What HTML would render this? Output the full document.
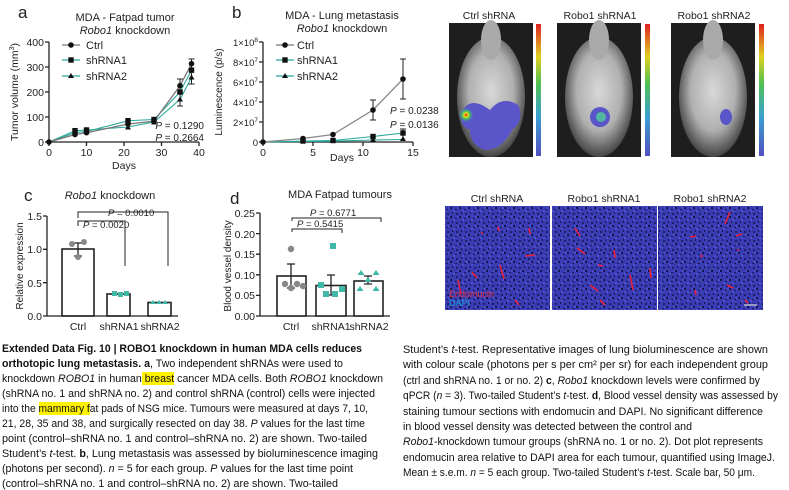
<!DOCTYPE html>
<html><head><meta charset="utf-8"><style>
body{margin:0;background:#fff;}
svg{display:block;font-family:"Liberation Sans",Arial,sans-serif;}
.cap{font-family:"Liberation Sans",sans-serif;font-size:11px;fill:#111;}
</style></head><body>
<svg width="789" height="490" viewBox="0 0 789 490" xmlns="http://www.w3.org/2000/svg">
<defs>
<pattern id="cells" width="9" height="9" patternUnits="userSpaceOnUse">
<rect width="9" height="9" fill="#3a3cb4"/>
<rect x="0" y="0" width="2" height="2" fill="#15154a"/>
<rect x="5" y="2" width="2" height="1" fill="#1a1a55"/>
<rect x="2" y="5" width="1" height="2" fill="#15154a"/>
<rect x="6" y="6" width="2" height="2" fill="#20206a"/>
<rect x="3" y="3" width="2" height="2" fill="#4c4ed0"/>
<rect x="7" y="0" width="2" height="2" fill="#4a4cc8"/>
</pattern>
<radialGradient id="mouse" cx="50%" cy="45%" r="60%">
<stop offset="0" stop-color="#d8d8d8"/><stop offset="0.55" stop-color="#b0b0b0"/><stop offset="1" stop-color="#2a2a2a"/>
</radialGradient>
<linearGradient id="cbar" x1="0" y1="1" x2="0" y2="0">
<stop offset="0" stop-color="#5050c0"/><stop offset="0.3" stop-color="#3aa0d0"/><stop offset="0.55" stop-color="#50c050"/><stop offset="0.75" stop-color="#e0d020"/><stop offset="1" stop-color="#e02020"/>
</linearGradient>
<radialGradient id="hot"><stop offset="0" stop-color="#e00000"/><stop offset="0.25" stop-color="#e8e020"/><stop offset="0.5" stop-color="#40c060"/><stop offset="1" stop-color="#5a5ad0" stop-opacity="0"/></radialGradient>
</defs>
<g font-size="11" fill="#222">
<!-- Panel a -->
<text x="18" y="18" font-size="17">a</text>
<text x="125" y="21" text-anchor="middle">MDA - Fatpad tumor</text>
<text x="125" y="34" text-anchor="middle"><tspan font-style="italic">Robo1</tspan> knockdown</text>
<g stroke="#222" stroke-width="1.3" fill="none">
<path d="M49,42V142H199"/>
<path d="M45,42H49M45,67H49M45,92H49M45,117H49M45,142H49"/>
<path d="M49,142v4M86.5,142v4M124,142v4M161.5,142v4M199,142v4"/>
</g>
<g text-anchor="end" font-size="10.5"><text x="44" y="46">400</text><text x="44" y="71">300</text><text x="44" y="96">200</text><text x="44" y="121">100</text><text x="44" y="146">0</text></g>
<g text-anchor="middle" font-size="10.5"><text x="49" y="156">0</text><text x="86.5" y="156">10</text><text x="124" y="156">20</text><text x="161.5" y="156">30</text><text x="199" y="156">40</text><text x="124" y="169">Days</text></g>
<text transform="translate(18,92) rotate(-90)" text-anchor="middle" font-size="10.5">Tumor volume (mm<tspan font-size="7" dy="-4">3</tspan><tspan dy="4">)</tspan></text>
<polyline fill="none" stroke="#2aa89a" stroke-width="1.1" points="49,142 75,132.5 86.5,131.5 128,120.75 154,119.5 180,92 191.5,70.25"/>
<polyline fill="none" stroke="#2aa89a" stroke-width="1.1" points="49,142 75,130.75 86.5,130 128,127 154,122 180,99.5 191.5,77.5"/>
<polyline fill="none" stroke="#777" stroke-width="1.3" points="49,142 75,134.5 86.5,132.75 128,124 154,121.25 180,85.75 191.5,63.75"/>
<g stroke="#222" stroke-width="1"><path d="M180,79v14M177,79h6M177,93h6M180,92v14M177,106h6M191.5,59v10M188.5,59h6M191.5,73v11M188.5,84h6"/></g>
<g fill="#111">
<circle cx="75" cy="134.5" r="2.8"/><circle cx="86.5" cy="132.7" r="2.8"/><circle cx="128" cy="124" r="2.8"/><circle cx="154" cy="121.2" r="2.8"/><circle cx="180" cy="85.7" r="2.8"/><circle cx="191.5" cy="63.7" r="2.8"/><circle cx="49" cy="142" r="2.8"/>
<rect x="72.3" y="128" width="5.4" height="5.4"/><rect x="83.8" y="127.3" width="5.4" height="5.4"/><rect x="125.3" y="118" width="5.4" height="5.4"/><rect x="151.3" y="116.8" width="5.4" height="5.4"/><rect x="177.3" y="89.3" width="5.4" height="5.4"/><rect x="188.8" y="67.5" width="5.4" height="5.4"/>
<path d="M75,127.5l3,5h-6zM86.5,126.8l3,5h-6zM128,124.5l3,5h-6zM154,119.5l3,5h-6zM180,96.5l3,5h-6zM191.5,74.5l3,5h-6z"/>
</g>
<path d="M62,45H80" stroke="#777" stroke-width="1.3"/><circle cx="71" cy="45" r="2.8" fill="#111"/><text x="86" y="49">Ctrl</text>
<path d="M62,60H80" stroke="#2aa89a" stroke-width="1.3"/><rect x="68.3" y="57.3" width="5.4" height="5.4" fill="#111"/><text x="86" y="64">shRNA1</text>
<path d="M62,76H80" stroke="#2aa89a" stroke-width="1.3"/><path d="M71,73l3,5h-6z" fill="#111"/><text x="86" y="80">shRNA2</text>
<text x="204" y="129" text-anchor="end" font-size="10"><tspan font-style="italic">P</tspan> = 0.1290</text>
<text x="204" y="141" text-anchor="end" font-size="10"><tspan font-style="italic">P</tspan> = 0.2664</text>

<!-- Panel b -->
<text x="232" y="18" font-size="17">b</text>
<text x="342" y="19" text-anchor="middle">MDA - Lung metastasis</text>
<text x="342" y="32" text-anchor="middle"><tspan font-style="italic">Robo1</tspan> knockdown</text>
<g stroke="#222" stroke-width="1.3" fill="none">
<path d="M263,42V142H413"/>
<path d="M259,42H263M259,62H263M259,82H263M259,102H263M259,122H263M259,142H263"/>
<path d="M263,142v4M313,142v4M363,142v4M413,142v4"/>
</g>
<g text-anchor="end" font-size="9.5"><text x="258" y="46">1×10<tspan font-size="6.5" dy="-4">8</tspan></text><text x="258" y="66">8×10<tspan font-size="6.5" dy="-4">7</tspan></text><text x="258" y="86">6×10<tspan font-size="6.5" dy="-4">7</tspan></text><text x="258" y="106">4×10<tspan font-size="6.5" dy="-4">7</tspan></text><text x="258" y="126">2×10<tspan font-size="6.5" dy="-4">7</tspan></text><text x="258" y="146">0</text></g>
<g text-anchor="middle" font-size="10.5"><text x="263" y="156">0</text><text x="313" y="156">5</text><text x="363" y="156">10</text><text x="413" y="156">15</text><text x="342" y="161">Days</text></g>
<text transform="translate(222,92) rotate(-90)" text-anchor="middle" font-size="10">Luminescence (p/s)</text>
<polyline fill="none" stroke="#2aa89a" stroke-width="1.1" points="263,142 303,141.5 333,141.2 373,140 403,139.5"/>
<polyline fill="none" stroke="#2aa89a" stroke-width="1.1" points="263,142 303,141 333,140.5 373,136.5 403,133"/>
<polyline fill="none" stroke="#888" stroke-width="1.3" points="263,142 303,138.5 333,134.5 373,110 403,79"/>
<g stroke="#222" stroke-width="1"><path d="M373,100v20M370,100h6M370,120h6M403,59v40M400,59h6M400,99h6M403,129v8M400,129h6"/></g>
<g fill="#111"><circle cx="263" cy="142" r="2.8"/><circle cx="303" cy="138.5" r="2.8"/><circle cx="333" cy="134.5" r="2.8"/><circle cx="373" cy="110" r="2.8"/><circle cx="403" cy="79" r="2.8"/>
<rect x="300.3" y="138.3" width="5.4" height="5.4"/><rect x="330.3" y="137.8" width="5.4" height="5.4"/><rect x="370.3" y="133.8" width="5.4" height="5.4"/><rect x="400.3" y="130.3" width="5.4" height="5.4"/>
<path d="M403,136l3,5h-6zM373,137l3,5h-6z"/></g>
<path d="M276,45H294" stroke="#777" stroke-width="1.3"/><circle cx="285" cy="45" r="2.8" fill="#111"/><text x="297" y="49">Ctrl</text>
<path d="M276,60H294" stroke="#2aa89a" stroke-width="1.3"/><rect x="282.3" y="57.3" width="5.4" height="5.4" fill="#111"/><text x="297" y="64">shRNA1</text>
<path d="M276,76H294" stroke="#2aa89a" stroke-width="1.3"/><path d="M285,73l3,5h-6z" fill="#111"/><text x="297" y="80">shRNA2</text>
<text x="390" y="114" font-size="10"><tspan font-style="italic">P</tspan> = 0.0238</text>
<text x="390" y="128" font-size="10"><tspan font-style="italic">P</tspan> = 0.0136</text>

<!-- mouse images -->
<g>
<rect x="449" y="23" width="84" height="134" fill="#1e1e1e"/>
<ellipse cx="491" cy="97" rx="34" ry="60" fill="url(#mouse)"/>
<ellipse cx="491" cy="40" rx="10" ry="20" fill="#aaa"/>
<path d="M462,112 Q470,95 490,110 Q502,95 518,105 Q525,120 512,130 Q502,150 485,150 Q470,145 470,130 Q458,125 462,112Z" fill="#5a55c8"/>
<circle cx="466" cy="115" r="8" fill="url(#hot)"/>
<rect x="536" y="24" width="5" height="132" fill="url(#cbar)"/>

<rect x="557" y="23" width="84" height="134" fill="#1e1e1e"/>
<ellipse cx="599" cy="97" rx="34" ry="60" fill="url(#mouse)"/>
<ellipse cx="599" cy="40" rx="10" ry="20" fill="#aaa"/>
<circle cx="600" cy="117" r="10" fill="#5a55c8"/><circle cx="601" cy="117" r="5" fill="#50b8a0"/>
<rect x="645" y="24" width="5" height="132" fill="url(#cbar)"/>

<rect x="671" y="23" width="84" height="134" fill="#1e1e1e"/>
<ellipse cx="713" cy="97" rx="34" ry="60" fill="url(#mouse)"/>
<ellipse cx="713" cy="40" rx="10" ry="20" fill="#aaa"/>
<ellipse cx="726" cy="117" rx="6" ry="8" fill="#5a55c8"/>
<rect x="759" y="24" width="5" height="132" fill="url(#cbar)"/>
</g>
<g text-anchor="middle" font-size="10.5"><text x="489" y="19">Ctrl shRNA</text><text x="600" y="19">Robo1 shRNA1</text><text x="714" y="19">Robo1 shRNA2</text></g>

<!-- tissue -->
<g>
<rect x="445" y="206" width="105" height="104" fill="url(#cells)"/>
<rect x="552" y="206" width="105" height="104" fill="url(#cells)"/>
<rect x="658" y="206" width="105" height="104" fill="url(#cells)"/>
<g stroke="#e8203a" stroke-width="1.6" fill="none">
<path d="M500,265l4,14M525,256l10,-1M472,272l5,6M458,280l3,14M515,300l4,5M529,228l1,6M498,227l1,4M481,233h2"/>
<path d="M575,228l5,8M577,248l8,6M590,285l8,6M630,275l3,15M598,265l5,1M614,250l1,8M650,268l1,10M600,300l5,5"/>
<path d="M730,212l-5,12M690,237l6,-1M736,236l6,-2M700,256l3,0M695,290l1,5M727,285l6,3M737,250l2,0M745,300l3,3"/>
</g>
<text x="449" y="297" font-size="9" fill="#e03040">Endomucin</text>
<text x="449" y="306" font-size="9" fill="#1a9fd8">DAPI</text>
<path d="M744,305h13" stroke="#ddd" stroke-width="1.2"/>
</g>
<g text-anchor="middle" font-size="10.5"><text x="497" y="202">Ctrl shRNA</text><text x="604" y="202">Robo1 shRNA1</text><text x="710" y="202">Robo1 shRNA2</text></g>

<!-- Panel c -->
<text x="24" y="201" font-size="17">c</text>
<text x="110" y="199" text-anchor="middle"><tspan font-style="italic">Robo1</tspan> knockdown</text>
<g stroke="#222" stroke-width="1.3" fill="none">
<path d="M47,216V316"/>
<path d="M43,216H47M43,249.3H47M43,282.7H47M43,316H47"/>
<rect x="62" y="249" width="32" height="67" fill="#fff" stroke-width="1.6"/>
<rect x="107" y="294" width="23" height="22" fill="#fff" stroke-width="1.6"/>
<rect x="148" y="302.5" width="23" height="13.5" fill="#fff" stroke-width="1.6"/>
<path d="M47,316H178"/>
<path d="M78,243v13M74,243h8M74,256h8"/>
<path d="M78,226v-5H125v45M78,218v-6H168v54" stroke-width="1"/>
</g>
<g fill="#888"><circle cx="72" cy="244" r="3"/><circle cx="84" cy="242" r="3"/><circle cx="78" cy="257" r="3"/></g>
<g fill="#3fb8a8"><rect x="112" y="291" width="5" height="5"/><rect x="118" y="292" width="5" height="5"/><rect x="124" y="291" width="5" height="5"/><path d="M153,300l3,4h-6zM159,300l3,4h-6zM165,300l3,4h-6z"/></g>
<g text-anchor="end" font-size="10.5"><text x="42" y="220">1.5</text><text x="42" y="253">1.0</text><text x="42" y="287">0.5</text><text x="42" y="320">0.0</text></g>
<g text-anchor="middle" font-size="10.5"><text x="78" y="330">Ctrl</text><text x="119" y="330">shRNA1</text><text x="160" y="330">shRNA2</text></g>
<text transform="translate(23,266) rotate(-90)" text-anchor="middle" font-size="10">Relative expression</text>
<text x="83" y="228" font-size="9.5"><tspan font-style="italic">P</tspan> = 0.0020</text>
<text x="108" y="216" font-size="9.5"><tspan font-style="italic">P</tspan> = 0.0010</text>

<!-- Panel d -->
<text x="230" y="204" font-size="17">d</text>
<text x="340" y="198" text-anchor="middle">MDA  Fatpad tumours</text>
<g stroke="#222" stroke-width="1.3" fill="none">
<path d="M260,213V316H390"/>
<path d="M256,213H260M256,233.6H260M256,254.2H260M256,274.8H260M256,295.4H260M256,316H260"/>
<rect x="277" y="276" width="29" height="40" fill="#fff" stroke-width="1.6"/>
<rect x="316" y="285.5" width="30" height="30.5" fill="#fff" stroke-width="1.6"/>
<rect x="354" y="281" width="29" height="35" fill="#fff" stroke-width="1.6"/>
<path d="M291,264v24M287,264h8M287,288h8M331,275v20M327,275h8M327,295h8M368,276v8M364,276h8M364,284h8"/>
<path d="M292,221v-3H381v4M292,232v-3H342v4" stroke-width="1"/>
</g>
<g fill="#888"><circle cx="291" cy="249" r="3.2"/><circle cx="285" cy="284" r="3.2"/><circle cx="297" cy="284" r="3.2"/><circle cx="291" cy="288" r="3.2"/><circle cx="303" cy="286" r="3.2"/></g>
<g fill="#3fb8a8"><rect x="330" y="243" width="6" height="6"/><rect x="318" y="282" width="6" height="6"/><rect x="339" y="286" width="6" height="6"/><rect x="323" y="291" width="6" height="6"/><rect x="332" y="291" width="6" height="6"/>
<path d="M361,270l3.5,5h-7zM376,270l3.5,5h-7zM368,277l3.5,5h-7zM360,286l3.5,5h-7zM376,286l3.5,5h-7z"/></g>
<g text-anchor="end" font-size="10.5"><text x="255" y="217">0.25</text><text x="255" y="238">0.20</text><text x="255" y="258">0.15</text><text x="255" y="279">0.10</text><text x="255" y="299">0.05</text><text x="255" y="320">0.00</text></g>
<g text-anchor="middle" font-size="10.5"><text x="291" y="330">Ctrl</text><text x="331" y="330">shRNA1</text><text x="369" y="330">shRNA2</text></g>
<text transform="translate(231,266) rotate(-90)" text-anchor="middle" font-size="10">Blood vessel density</text>
<text x="310" y="216" font-size="9.5"><tspan font-style="italic">P</tspan> = 0.6771</text>
<text x="297" y="227" font-size="9.5"><tspan font-style="italic">P</tspan> = 0.5415</text>
</g>

<!-- caption -->
<rect x="142" y="372" width="32" height="13" fill="#fff200"/>
<rect x="39" y="402" width="51" height="13" fill="#fff200"/>
<g class="cap">
<text x="2" y="352" font-weight="bold" textLength="360" lengthAdjust="spacingAndGlyphs">Extended Data Fig. 10 | ROBO1 knockdown in human MDA cells reduces</text>
<text x="2" y="367" textLength="341" lengthAdjust="spacingAndGlyphs"><tspan font-weight="bold">orthotopic lung metastasis. a</tspan>, Two independent shRNAs were used to</text>
<text x="2" y="382" textLength="381" lengthAdjust="spacingAndGlyphs">knockdown <tspan font-style="italic">ROBO1</tspan> in human breast cancer MDA cells. Both <tspan font-style="italic">ROBO1</tspan> knockdown</text>
<text x="2" y="397" textLength="373" lengthAdjust="spacingAndGlyphs">(shRNA no. 1 and shRNA no. 2) and control shRNA (control) cells were injected</text>
<text x="2" y="412" textLength="366" lengthAdjust="spacingAndGlyphs">into the mammary fat pads of NSG mice. Tumours were measured at days 7, 10,</text>
<text x="2" y="427" textLength="363" lengthAdjust="spacingAndGlyphs">21, 28, 35 and 38, and surgically resected on day 38. <tspan font-style="italic">P</tspan> values for the last time</text>
<text x="2" y="442" textLength="365" lengthAdjust="spacingAndGlyphs">point (control–shRNA no. 1 and control–shRNA no. 2) are shown. Two-tailed</text>
<text x="2" y="457" textLength="376" lengthAdjust="spacingAndGlyphs">Student’s <tspan font-style="italic">t</tspan>-test. <tspan font-weight="bold">b</tspan>, Lung metastasis was assessed by bioluminescence imaging</text>
<text x="2" y="472" textLength="351" lengthAdjust="spacingAndGlyphs">(photons per second). <tspan font-style="italic">n</tspan> = 5 for each group. <tspan font-style="italic">P</tspan> values for the last time point</text>
<text x="2" y="487" textLength="336" lengthAdjust="spacingAndGlyphs">(control–shRNA no. 1 and control–shRNA no. 2) are shown. Two-tailed</text>

<text x="403" y="353" textLength="365" lengthAdjust="spacingAndGlyphs">Student’s <tspan font-style="italic">t</tspan>-test. Representative images of lung bioluminescence are shown</text>
<text x="403" y="368" textLength="365" lengthAdjust="spacingAndGlyphs">with colour scale (photons per s per cm² per sr) for each independent group</text>
<text x="403" y="384" textLength="357" lengthAdjust="spacingAndGlyphs">(ctrl and shRNA no. 1 or no. 2) <tspan font-weight="bold">c</tspan>, <tspan font-style="italic">Robo1</tspan> knockdown levels were confirmed by</text>
<text x="403" y="399" textLength="375" lengthAdjust="spacingAndGlyphs">qPCR (<tspan font-style="italic">n</tspan> = 3). Two-tailed Student’s <tspan font-style="italic">t</tspan>-test. <tspan font-weight="bold">d</tspan>, Blood vessel density was assessed by</text>
<text x="403" y="415" textLength="360" lengthAdjust="spacingAndGlyphs">staining tumour sections with endomucin and DAPI. No significant difference</text>
<text x="403" y="430" textLength="289" lengthAdjust="spacingAndGlyphs">in blood vessel density was detected between the control and</text>
<text x="403" y="445" textLength="360" lengthAdjust="spacingAndGlyphs"><tspan font-style="italic">Robo1</tspan>-knockdown tumour groups (shRNA no. 1 or no. 2). Dot plot represents</text>
<text x="403" y="461" textLength="372" lengthAdjust="spacingAndGlyphs">endomucin area relative to DAPI area for each tumour, quantified using ImageJ.</text>
<text x="403" y="476" textLength="352" lengthAdjust="spacingAndGlyphs">Mean ± s.e.m. <tspan font-style="italic">n</tspan> = 5 each group. Two-tailed Student’s <tspan font-style="italic">t</tspan>-test. Scale bar, 50 μm.</text>
</g>
</svg>
</body></html>
